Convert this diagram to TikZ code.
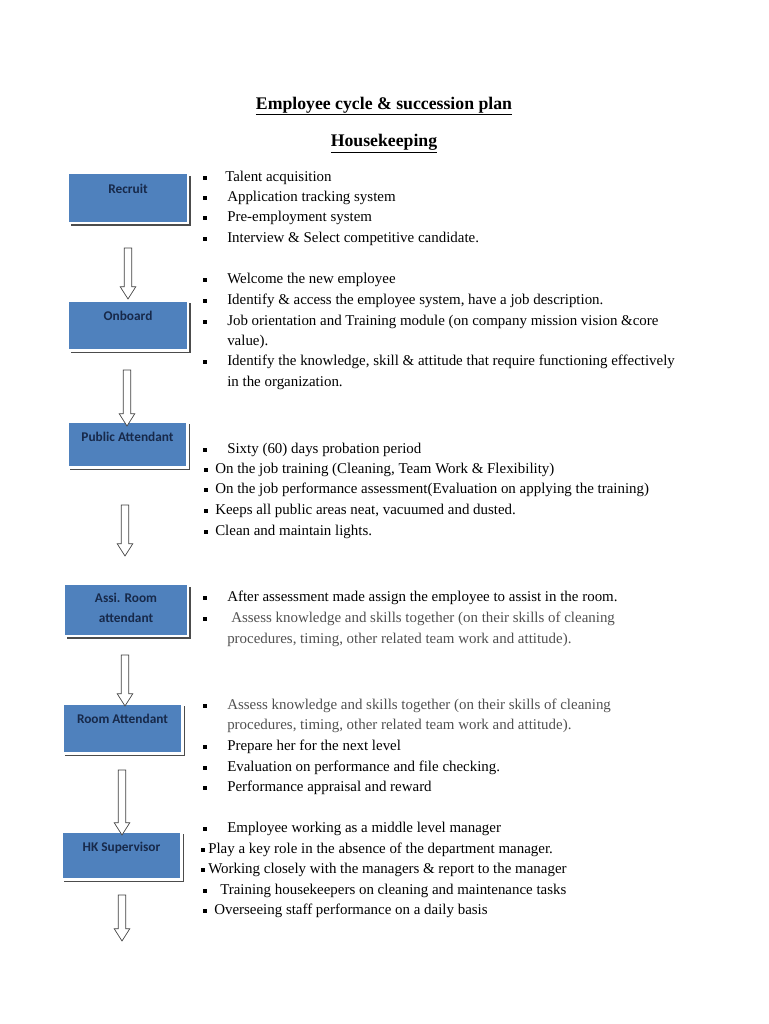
\documentclass[tikz,border=0pt]{standalone}
\usepackage{fontspec}
\setmainfont{Liberation Serif}
\newfontfamily\boxfont{Carlito}
\usetikzlibrary{positioning,shapes.arrows,shadows}

\definecolor{boxblue}{HTML}{4F81BD}
\definecolor{boxtext}{HTML}{17294A}
\definecolor{softgray}{HTML}{505050}
\newcommand{\bodysize}{\fontsize{11.2pt}{15.5pt}\selectfont}

\tikzset{
  stage/.style={rectangle, fill=boxblue, draw=white, line width=1.8pt, text=boxtext,
    font=\boxfont\bfseries\fontsize{10pt}{15pt}\selectfont, align=center, inner sep=0pt,
    minimum width=90pt, text height=15pt, text depth=22.5pt,
    drop shadow={shadow xshift=2pt, shadow yshift=-2pt, fill=black!70, opacity=1}},
  blockarrow/.style={single arrow, draw=black!75, fill=white, line width=0.5pt,
    shape border rotate=270, single arrow head extend=3pt,
    single arrow tip angle=65, inner sep=2.6pt},
  bulletline/.style={anchor=base west, inner sep=0pt, font=\bodysize},
  heading/.style={anchor=base, inner sep=0pt, font=\fontsize{13.3pt}{16pt}\selectfont\bfseries}
}

\begin{document}
\begin{tikzpicture}[x=0.75pt, y=-0.75pt]
  \useasboundingbox (0,0) rectangle (768,1024);

  % titles
  \node[heading] (head1) at (384,109) {\underline{Employee cycle \& succession plan}};
  \node[heading] (head2) at (384,146) {\underline{Housekeeping}};

  % stages
  \node[stage] (rec) at (128,198) {Recruit};
  \node[stage] (onb) at (128,325.5) {Onboard};
  \node[stage, text depth=19.5pt] (pub) at (127.5,444.5) {Public Attendant};
  \node[stage, minimum width=93pt, text height=29pt, text depth=10pt] (asr) at (126,610) {Assi. Room\\attendant};
  \node[stage] (rat) at (122.5,728.5) {Room Attendant};
  \node[stage, text depth=21pt] (hks) at (121.5,855.5) {HK Supervisor};

  % arrows
  \node[blockarrow, minimum height=38.25pt] (a1) at (128,270.5) {};
  \node[blockarrow, minimum height=42pt] (a2) at (127,395) {};
  \node[blockarrow, minimum height=38.25pt] (a3) at (125,527.5) {};
  \node[blockarrow, minimum height=38.25pt] (a4) at (125,677.5) {};
  \node[blockarrow, minimum height=48.75pt] (a5) at (122,799.5) {};
  \node[blockarrow, minimum height=34.5pt] (a6) at (122,915) {};

  % bullets
  \foreach \bx/\by in {205/176,205/196,205/216,205/237,
                       205/278,205/299,205/320,205/360,
                       205/448,206/468,206/488,206/509,206/530,
                       205/596,205/617,
                       205/704,205/745,205/766,205/786,
                       205/827,203/848,203/868,205/889,205/909}
    \fill (\bx-2,\by-0.5) rectangle (\bx+2,\by+3.5);

  % recruit
  \node[bulletline] (rec1) at (225,181) {Talent acquisition};
  \node[bulletline] (rec2) at (227,201) {Application tracking system};
  \node[bulletline] (rec3) at (227,221) {Pre-employment system};
  \node[bulletline] (rec4) at (227,242) {Interview \& Select competitive candidate.};

  % onboard
  \node[bulletline] (onb1) at (227,283) {Welcome the new employee};
  \node[bulletline] (onb2) at (227,304) {Identify \& access the employee system, have a job description.};
  \node[bulletline] (onb3) at (227,325) {Job orientation and Training module (on company mission vision \&core};
  \node[bulletline] (onb4) at (227,345) {value).};
  \node[bulletline] (onb5) at (227,365) {Identify the knowledge, skill \& attitude that require functioning effectively};
  \node[bulletline] (onb6) at (227,386) {in the organization.};

  % public attendant
  \node[bulletline] (pub1) at (227,453) {Sixty (60) days probation period};
  \node[bulletline] (pub2) at (215,473) {On the job training (Cleaning, Team Work \& Flexibility)};
  \node[bulletline] (pub3) at (215,493) {On the job performance assessment(Evaluation on applying the training)};
  \node[bulletline] (pub4) at (215,514) {Keeps all public areas neat, vacuumed and dusted.};
  \node[bulletline] (pub5) at (215,535) {Clean and maintain lights.};

  % assistant room attendant
  \node[bulletline] (asr1) at (227,601) {After assessment made assign the employee to assist in the room.};
  \node[bulletline, text=softgray] (asr2) at (231,622) {Assess knowledge and skills together (on their skills of cleaning};
  \node[bulletline, text=softgray] (asr3) at (227,643) {procedures, timing, other related team work and attitude).};

  % room attendant
  \node[bulletline, text=softgray] (rat1) at (227,709) {Assess knowledge and skills together (on their skills of cleaning};
  \node[bulletline, text=softgray] (rat2) at (227,729) {procedures, timing, other related team work and attitude).};
  \node[bulletline] (rat3) at (227,750) {Prepare her for the next level};
  \node[bulletline] (rat4) at (227,771) {Evaluation on performance and file checking.};
  \node[bulletline] (rat5) at (227,791) {Performance appraisal and reward};

  % hk supervisor
  \node[bulletline] (hks1) at (227,832) {Employee working as a middle level manager};
  \node[bulletline] (hks2) at (208,853) {Play a key role in the absence of the department manager.};
  \node[bulletline] (hks3) at (208,873) {Working closely with the managers \& report to the manager};
  \node[bulletline] (hks4) at (220,894) {Training housekeepers on cleaning and maintenance tasks};
  \node[bulletline] (hks5) at (214,914) {Overseeing staff performance on a daily basis};
\end{tikzpicture}
\end{document}
